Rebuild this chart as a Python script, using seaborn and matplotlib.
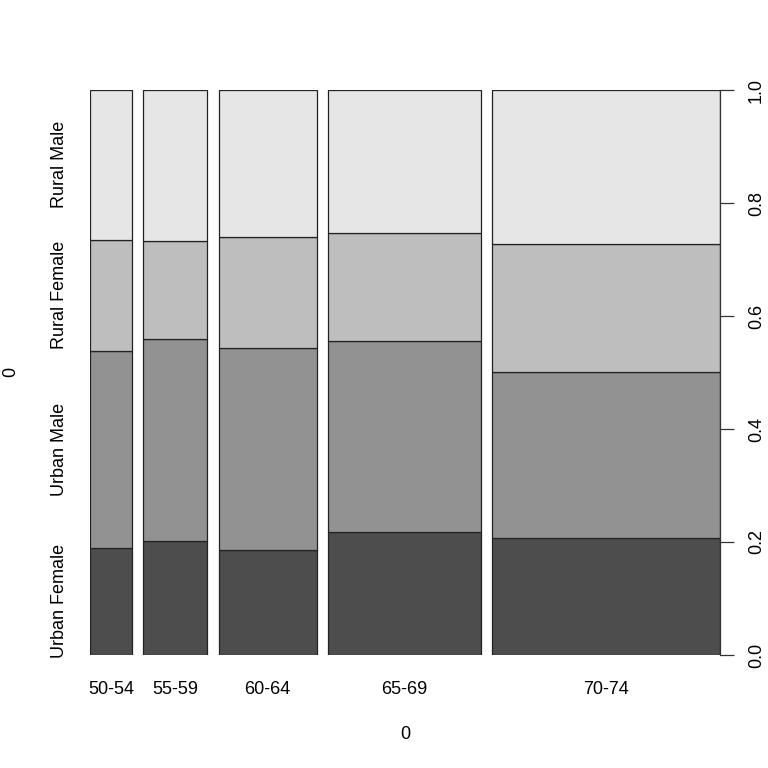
import numpy as np
import matplotlib
matplotlib.use("Agg")
import matplotlib.pyplot as plt
import seaborn as sns

# --- DATA ---
age_groups = ["50-54", "55-59", "60-64", "65-69", "70-74"]
groups = ["Urban Female", "Urban Male", "Rural Female", "Rural Male"]  # bottom -> top
urban_female = [8.4, 13.6, 19.3, 35.1, 50.0]
urban_male = [15.4, 24.3, 37.0, 54.6, 71.1]
rural_female = [8.7, 11.7, 20.3, 30.9, 54.3]
rural_male = [11.7, 18.1, 26.9, 41.0, 66.0]
shades = ["#4D4D4D", "#929292", "#BEBEBE", "#E6E6E6"]

# --- PREP ---
counts = np.array([urban_female, urban_male, rural_female, rural_male])
totals = counts.sum(axis=0)
props = counts / totals
widths = totals / totals.sum()
gap = 0.02
lefts = np.concatenate([[0], np.cumsum(widths[:-1] + gap)])
centers = lefts + widths / 2

sns.set_theme(style="white")
plt.rcParams["font.family"] = ["Liberation Sans", "DejaVu Sans"]
plt.rcParams["text.color"] = "black"
plt.rcParams["xtick.color"] = "black"
plt.rcParams["ytick.color"] = "black"
plt.rcParams["axes.labelcolor"] = "black"

FS = 13

fig = plt.figure(figsize=(7.68, 7.68), dpi=100)
ax = fig.add_axes([90 / 768, 113 / 768, 630 / 768, 565 / 768])

bottoms = np.zeros(len(age_groups))
for i, g in enumerate(groups):
    ax.bar(lefts, props[i], width=widths, bottom=bottoms, align="edge",
           color=shades[i], edgecolor="#222222", linewidth=0.9)
    bottoms += props[i]

ax.set_xlim(0, lefts[-1] + widths[-1])
ax.set_ylim(0, 1)
for s in ["top", "left", "bottom", "right"]:
    ax.spines[s].set_visible(False)

# bottom labels at bar centres
ax.set_xticks(centers)
ax.set_xticklabels(age_groups, fontsize=FS)
ax.tick_params(axis="x", length=0, pad=19)

# left labels at the segment midpoints of the first bar
first = props[:, 0]
mids = np.cumsum(first) - first / 2
ax.set_yticks(mids)
ax.set_yticklabels(groups, fontsize=FS, rotation=90, va="center")
ax.tick_params(axis="y", length=0, pad=16)

# right proportion axis
ax2 = ax.twinx()
ax2.set_ylim(0, 1)
ax2.set_yticks([0.0, 0.2, 0.4, 0.6, 0.8, 1.0])
ax2.set_yticklabels(["0.0", "0.2", "0.4", "0.6", "0.8", "1.0"], fontsize=FS,
                    rotation=90, va="center")
ax2.tick_params(axis="y", length=10, width=0.9, color="#333333", pad=10,
                right=True, direction="out")
for s in ["top", "left", "bottom"]:
    ax2.spines[s].set_visible(False)
ax2.spines["right"].set_color("#333333")
ax2.spines["right"].set_linewidth(0.9)

ax.set_xlabel("0", fontsize=FS)
ax.set_ylabel("0", fontsize=FS)
ax.xaxis.set_label_coords((405 - 90) / 630, (655 - 726) / 565)
ax.yaxis.set_label_coords((19 - 90) / 630, (655 - 372) / 565)

plt.savefig("out.png", dpi=100)
